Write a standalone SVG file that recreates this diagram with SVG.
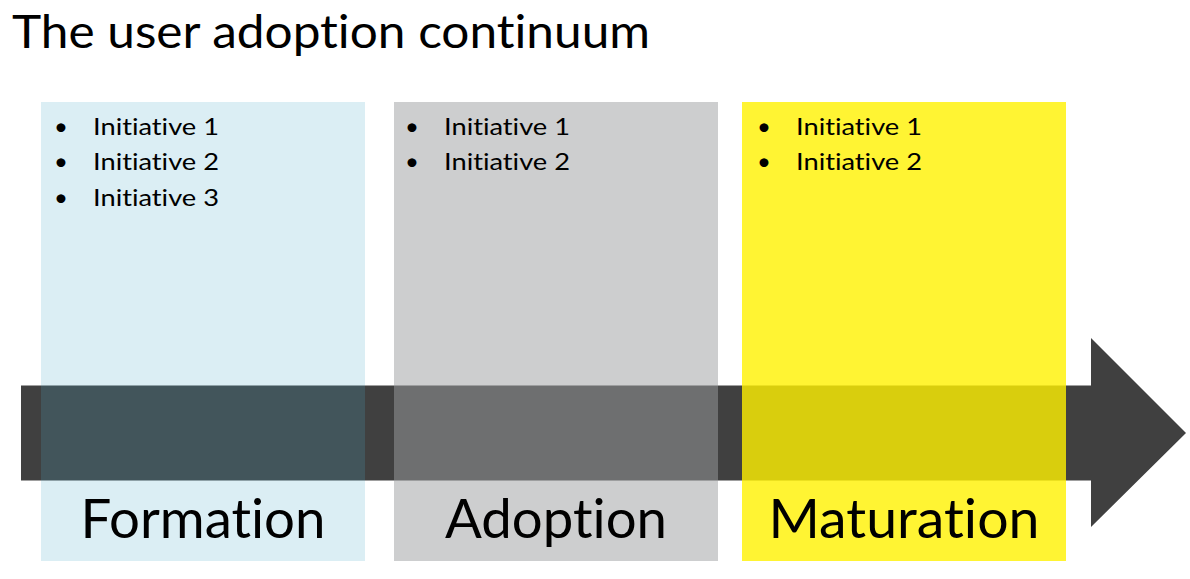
<svg xmlns="http://www.w3.org/2000/svg" width="1190" height="579" viewBox="0 0 1190 579">
<style>
.t{font-family:Lato,"Open Sans","Liberation Sans",sans-serif;fill:#000;font-variant-ligatures:none;font-feature-settings:"liga" 0,"dlig" 0}
.b{font-size:24px}
.lbl{font-size:54px;text-anchor:middle}
</style>
<rect width="1190" height="579" fill="#fff"/>
<text class="t" x="12" y="48" font-size="46" textLength="638" lengthAdjust="spacingAndGlyphs">The user adoption continuum</text>
<g id="connectors">
<path id="arrow" d="M21,385.5 H1091 V338 L1186,433 L1091,527 V480.5 H21 Z" fill="#404040"/>
</g>
<g id="formation">
<rect x="41" y="102" width="324" height="459" fill="#4BACC6" fill-opacity="0.2"/>
<g class="t b">
<text x="54" y="135">•</text><text x="93" y="135" textLength="126" lengthAdjust="spacingAndGlyphs">Initiative 1</text>
<text x="54" y="170">•</text><text x="93" y="170" textLength="126" lengthAdjust="spacingAndGlyphs">Initiative 2</text>
<text x="54" y="206">•</text><text x="93" y="206" textLength="126" lengthAdjust="spacingAndGlyphs">Initiative 3</text>
</g>
<text class="t lbl" x="203" y="538" textLength="245" lengthAdjust="spacingAndGlyphs">Formation</text>
</g>
<g id="adoption">
<rect x="394" y="102" width="324" height="459" fill="#9C9DA0" fill-opacity="0.5"/>
<g class="t b">
<text x="405" y="135">•</text><text x="444" y="135" textLength="126" lengthAdjust="spacingAndGlyphs">Initiative 1</text>
<text x="405" y="170">•</text><text x="444" y="170" textLength="126" lengthAdjust="spacingAndGlyphs">Initiative 2</text>
</g>
<text class="t lbl" x="556" y="538" textLength="222" lengthAdjust="spacingAndGlyphs">Adoption</text>
</g>
<g id="maturation">
<rect x="742" y="102" width="324" height="459" fill="#FFF100" fill-opacity="0.8"/>
<g class="t b">
<text x="757" y="135">•</text><text x="796" y="135" textLength="126" lengthAdjust="spacingAndGlyphs">Initiative 1</text>
<text x="757" y="170">•</text><text x="796" y="170" textLength="126" lengthAdjust="spacingAndGlyphs">Initiative 2</text>
</g>
<text class="t lbl" x="904" y="538" textLength="271" lengthAdjust="spacingAndGlyphs">Maturation</text>
</g>
</svg>
